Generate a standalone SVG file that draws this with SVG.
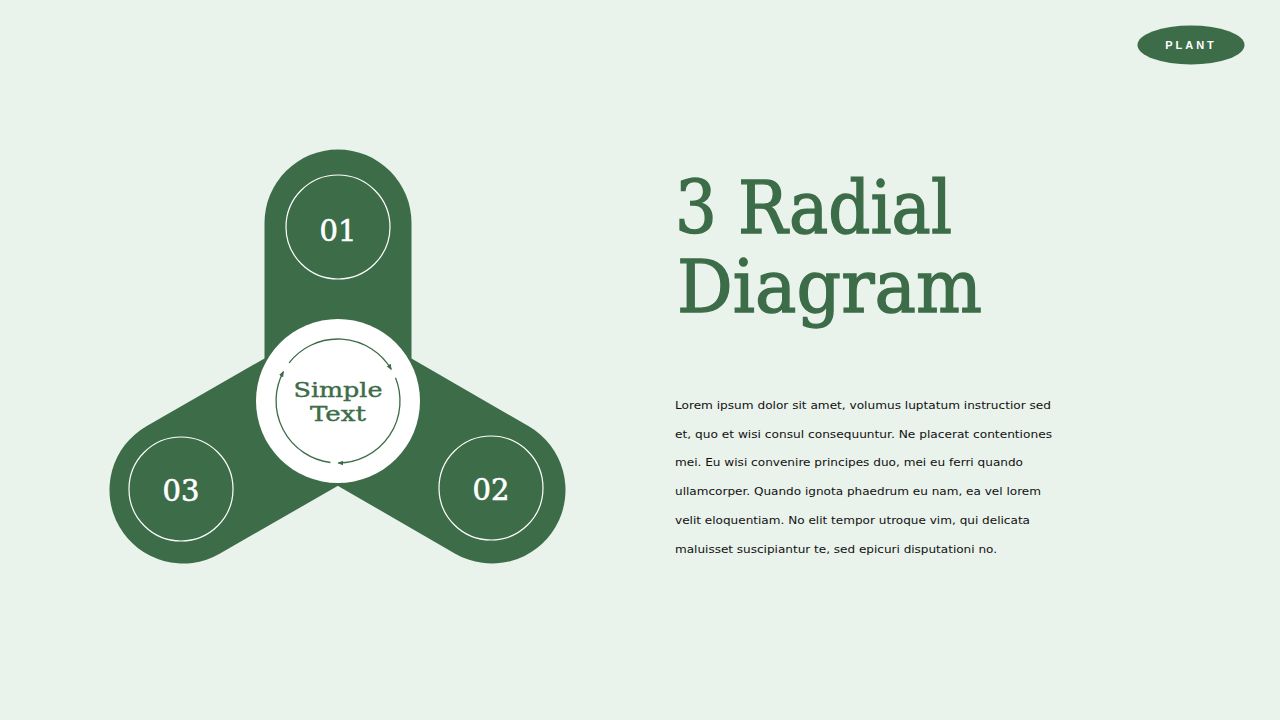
<svg xmlns="http://www.w3.org/2000/svg" width="1280" height="720" viewBox="0 0 1280 720">
<defs>
<style>
.arm{stroke:#3C6C48;stroke-width:147;stroke-linecap:round;fill:none}
.ring{fill:none;stroke:#FFFFFF;stroke-width:1.2}
.num{font-family:"DejaVu Serif","Liberation Serif",serif;font-size:29px;fill:#FFFFFF;stroke:#FFFFFF;stroke-width:0.6;text-anchor:middle}
.body{font-family:"DejaVu Sans","Liberation Sans",sans-serif;font-size:11px;fill:#111111}
.title{font-family:"DejaVu Serif","Liberation Serif",serif;font-size:72px;fill:#3C6C48;stroke:#3C6C48;stroke-width:1.4}
.mid{font-family:"DejaVu Serif","Liberation Serif",serif;font-size:20px;fill:#3C6C48;stroke:#3C6C48;stroke-width:0.4;text-anchor:middle}
.cyc{fill:none;stroke:#3C6C48;stroke-width:1.3;marker-end:url(#ah)}
</style>
<marker id="ah" viewBox="0 0 10 10" refX="8" refY="5" markerWidth="6" markerHeight="6" orient="auto" markerUnits="userSpaceOnUse">
<path d="M0,1 L10,5 L0,9 Z" fill="#3C6C48"/>
</marker>
</defs>
<rect width="1280" height="720" fill="#E9F2EB"/>
<g id="badge">
<ellipse cx="1191" cy="45" rx="53.5" ry="19.5" fill="#3C6C48"/>
<text x="1191" y="49" font-family="Liberation Sans, Arial, sans-serif" font-size="11" font-weight="bold" fill="#FFFFFF" text-anchor="middle" letter-spacing="3">PLANT</text>
</g>
<g id="node-01">
<line class="arm" x1="338" y1="401" x2="338" y2="223"/>
<circle class="ring" cx="338" cy="227" r="52"/>
<text class="num" x="338" y="241">01</text>
</g>
<g id="node-02">
<line class="arm" x1="338" y1="401" x2="492" y2="490"/>
<circle class="ring" cx="491" cy="488" r="52"/>
<text class="num" x="491" y="500">02</text>
</g>
<g id="node-03">
<line class="arm" x1="338" y1="401" x2="183" y2="490"/>
<circle class="ring" cx="181" cy="489" r="52"/>
<text class="num" x="181" y="501">03</text>
</g>
<g id="node-center">
<circle cx="338" cy="401" r="82" fill="#FFFFFF"/>
<text class="mid" x="338" y="397" textLength="89" lengthAdjust="spacingAndGlyphs">Simple</text>
<text class="mid" x="338" y="421" textLength="56" lengthAdjust="spacingAndGlyphs">Text</text>
</g>
<g id="connectors">
<path class="cyc" d="M289.1,362.8 A62,62 0 0 1 391.1,369.1"/>
<path class="cyc" d="M395.5,377.8 A62,62 0 0 1 338.5,463"/>
<path class="cyc" d="M330.4,462.5 A62,62 0 0 1 283.3,371.9"/>
</g>
<g id="title">
<text class="title" x="675" y="233" textLength="277" lengthAdjust="spacingAndGlyphs">3 Radial</text>
<text class="title" x="677" y="312" textLength="305" lengthAdjust="spacingAndGlyphs">Diagram</text>
</g>
<g id="body">
<text class="body" x="675" y="409" textLength="376" lengthAdjust="spacingAndGlyphs">Lorem ipsum dolor sit amet, volumus luptatum instructior sed</text>
<text class="body" x="675" y="438" textLength="377" lengthAdjust="spacingAndGlyphs">et, quo et wisi consul consequuntur. Ne placerat contentiones</text>
<text class="body" x="675" y="466" textLength="348" lengthAdjust="spacingAndGlyphs">mei. Eu wisi convenire principes duo, mei eu ferri quando</text>
<text class="body" x="675" y="495" textLength="366" lengthAdjust="spacingAndGlyphs">ullamcorper. Quando ignota phaedrum eu nam, ea vel lorem</text>
<text class="body" x="675" y="524" textLength="355" lengthAdjust="spacingAndGlyphs">velit eloquentiam. No elit tempor utroque vim, qui delicata</text>
<text class="body" x="675" y="553" textLength="322" lengthAdjust="spacingAndGlyphs">maluisset suscipiantur te, sed epicuri disputationi no.</text>
</g>
</svg>
